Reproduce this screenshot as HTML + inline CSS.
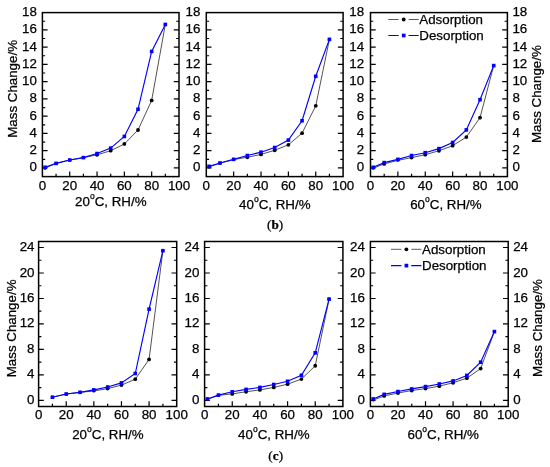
<!DOCTYPE html>
<html><head><meta charset="utf-8"><style>
html,body{margin:0;padding:0;background:#fff;}
body{width:550px;height:467px;overflow:hidden;}
svg{display:block;}
text{font-family:"Liberation Sans",Arial,sans-serif;font-size:13.33px;fill:#000;stroke:#000;stroke-width:0.25px;}
</style></head><body>
<svg width="550" height="467" viewBox="0 0 550 467">
<rect width="550" height="467" fill="#fff"/>
<path d="M42.4 167.97h5.2M179 167.97h-5.2M42.4 159.34h2.8M179 159.34h-2.8M42.4 150.71h5.2M179 150.71h-5.2M42.4 142.07h2.8M179 142.07h-2.8M42.4 133.44h5.2M179 133.44h-5.2M42.4 124.81h2.8M179 124.81h-2.8M42.4 116.18h5.2M179 116.18h-5.2M42.4 107.55h2.8M179 107.55h-2.8M42.4 98.92h5.2M179 98.92h-5.2M42.4 90.28h2.8M179 90.28h-2.8M42.4 81.65h5.2M179 81.65h-5.2M42.4 73.02h2.8M179 73.02h-2.8M42.4 64.39h5.2M179 64.39h-5.2M42.4 55.76h2.8M179 55.76h-2.8M42.4 47.13h5.2M179 47.13h-5.2M42.4 38.49h2.8M179 38.49h-2.8M42.4 29.86h5.2M179 29.86h-5.2M42.4 21.23h2.8M179 21.23h-2.8M56.06 176.6v-2.8M69.72 176.6v-5.2M83.38 176.6v-2.8M97.04 176.6v-5.2M110.7 176.6v-2.8M124.36 176.6v-5.2M138.02 176.6v-2.8M151.68 176.6v-5.2M165.34 176.6v-2.8" stroke="#000" stroke-width="1.2" fill="none"/>
<rect x="42.4" y="12.6" width="136.6" height="164" fill="none" stroke="#000" stroke-width="1.5"/>
<text x="36.8" y="171.47" text-anchor="end">0</text>
<text x="36.8" y="154.21" text-anchor="end">2</text>
<text x="36.8" y="136.94" text-anchor="end">4</text>
<text x="36.8" y="119.68" text-anchor="end">6</text>
<text x="36.8" y="102.42" text-anchor="end">8</text>
<text x="36.8" y="85.15" text-anchor="end">10</text>
<text x="36.8" y="67.89" text-anchor="end">12</text>
<text x="36.8" y="50.63" text-anchor="end">14</text>
<text x="36.8" y="33.36" text-anchor="end">16</text>
<text x="36.8" y="16.1" text-anchor="end">18</text>
<text x="42.4" y="189.6" text-anchor="middle">0</text>
<text x="69.72" y="189.6" text-anchor="middle">20</text>
<text x="97.04" y="189.6" text-anchor="middle">40</text>
<text x="124.36" y="189.6" text-anchor="middle">60</text>
<text x="151.68" y="189.6" text-anchor="middle">80</text>
<text x="179" y="189.6" text-anchor="middle">100</text>
<polyline points="45.13,168.14 56.06,163.39 69.72,160.03 83.38,157.61 97.04,154.85 110.7,150.71 124.36,143.97 138.02,129.99 151.68,100.38 165.34,24.43" fill="none" stroke="#333" stroke-width="0.85"/>
<polyline points="45.13,167.28 56.06,163.39 69.72,160.03 83.38,157.61 97.04,153.55 110.7,148.12 124.36,136.46 138.02,109.27 151.68,51.44 165.34,24.43" fill="none" stroke="#0000ff" stroke-width="1.15"/>
<circle cx="45.13" cy="168.14" r="1.5"/>
<circle cx="56.06" cy="163.39" r="1.5"/>
<circle cx="69.72" cy="160.03" r="1.5"/>
<circle cx="83.38" cy="157.61" r="1.5"/>
<circle cx="97.04" cy="154.85" r="1.9"/>
<circle cx="110.7" cy="150.71" r="1.9"/>
<circle cx="124.36" cy="143.97" r="1.9"/>
<circle cx="138.02" cy="129.99" r="1.9"/>
<circle cx="151.68" cy="100.38" r="1.9"/>
<circle cx="165.34" cy="24.43" r="1.5"/>
<rect x="43.33" y="165.48" width="3.6" height="3.6" fill="#0000ff"/>
<rect x="54.26" y="161.59" width="3.6" height="3.6" fill="#0000ff"/>
<rect x="67.92" y="158.23" width="3.6" height="3.6" fill="#0000ff"/>
<rect x="81.58" y="155.81" width="3.6" height="3.6" fill="#0000ff"/>
<rect x="95.24" y="151.75" width="3.6" height="3.6" fill="#0000ff"/>
<rect x="108.9" y="146.32" width="3.6" height="3.6" fill="#0000ff"/>
<rect x="122.56" y="134.66" width="3.6" height="3.6" fill="#0000ff"/>
<rect x="136.22" y="107.47" width="3.6" height="3.6" fill="#0000ff"/>
<rect x="149.88" y="49.64" width="3.6" height="3.6" fill="#0000ff"/>
<rect x="163.54" y="22.63" width="3.6" height="3.6" fill="#0000ff"/>
<text x="75.1" y="206.1">20<tspan font-size="8.5" dy="-7.3">o</tspan><tspan dy="7.3">C, RH/%</tspan></text>
<path d="M206.3 167.97h5.2M343.1 167.97h-5.2M206.3 159.34h2.8M343.1 159.34h-2.8M206.3 150.71h5.2M343.1 150.71h-5.2M206.3 142.07h2.8M343.1 142.07h-2.8M206.3 133.44h5.2M343.1 133.44h-5.2M206.3 124.81h2.8M343.1 124.81h-2.8M206.3 116.18h5.2M343.1 116.18h-5.2M206.3 107.55h2.8M343.1 107.55h-2.8M206.3 98.92h5.2M343.1 98.92h-5.2M206.3 90.28h2.8M343.1 90.28h-2.8M206.3 81.65h5.2M343.1 81.65h-5.2M206.3 73.02h2.8M343.1 73.02h-2.8M206.3 64.39h5.2M343.1 64.39h-5.2M206.3 55.76h2.8M343.1 55.76h-2.8M206.3 47.13h5.2M343.1 47.13h-5.2M206.3 38.49h2.8M343.1 38.49h-2.8M206.3 29.86h5.2M343.1 29.86h-5.2M206.3 21.23h2.8M343.1 21.23h-2.8M219.98 176.6v-2.8M233.66 176.6v-5.2M247.34 176.6v-2.8M261.02 176.6v-5.2M274.7 176.6v-2.8M288.38 176.6v-5.2M302.06 176.6v-2.8M315.74 176.6v-5.2M329.42 176.6v-2.8" stroke="#000" stroke-width="1.2" fill="none"/>
<rect x="206.3" y="12.6" width="136.8" height="164" fill="none" stroke="#000" stroke-width="1.5"/>
<text x="200.3" y="171.47" text-anchor="end">0</text>
<text x="200.3" y="154.21" text-anchor="end">2</text>
<text x="200.3" y="136.94" text-anchor="end">4</text>
<text x="200.3" y="119.68" text-anchor="end">6</text>
<text x="200.3" y="102.42" text-anchor="end">8</text>
<text x="200.3" y="85.15" text-anchor="end">10</text>
<text x="200.3" y="67.89" text-anchor="end">12</text>
<text x="200.3" y="50.63" text-anchor="end">14</text>
<text x="200.3" y="33.36" text-anchor="end">16</text>
<text x="200.3" y="16.1" text-anchor="end">18</text>
<text x="206.3" y="189.6" text-anchor="middle">0</text>
<text x="233.66" y="189.6" text-anchor="middle">20</text>
<text x="261.02" y="189.6" text-anchor="middle">40</text>
<text x="288.38" y="189.6" text-anchor="middle">60</text>
<text x="315.74" y="189.6" text-anchor="middle">80</text>
<text x="343.1" y="189.6" text-anchor="middle">100</text>
<polyline points="209.04,166.93 219.98,163.22 233.66,159.51 247.34,157.27 261.02,154.42 274.7,150.27 288.38,144.84 302.06,133.18 315.74,105.82 329.42,39.36" fill="none" stroke="#333" stroke-width="0.85"/>
<polyline points="209.04,166.33 219.98,162.96 233.66,159.34 247.34,155.54 261.02,152.17 274.7,147.51 288.38,140.09 302.06,120.75 315.74,76.3 329.42,39.36" fill="none" stroke="#0000ff" stroke-width="1.15"/>
<circle cx="209.04" cy="166.93" r="1.5"/>
<circle cx="219.98" cy="163.22" r="1.5"/>
<circle cx="233.66" cy="159.51" r="1.5"/>
<circle cx="247.34" cy="157.27" r="1.9"/>
<circle cx="261.02" cy="154.42" r="1.9"/>
<circle cx="274.7" cy="150.27" r="1.9"/>
<circle cx="288.38" cy="144.84" r="1.9"/>
<circle cx="302.06" cy="133.18" r="1.9"/>
<circle cx="315.74" cy="105.82" r="1.9"/>
<circle cx="329.42" cy="39.36" r="1.5"/>
<rect x="207.24" y="164.53" width="3.6" height="3.6" fill="#0000ff"/>
<rect x="218.18" y="161.16" width="3.6" height="3.6" fill="#0000ff"/>
<rect x="231.86" y="157.54" width="3.6" height="3.6" fill="#0000ff"/>
<rect x="245.54" y="153.74" width="3.6" height="3.6" fill="#0000ff"/>
<rect x="259.22" y="150.37" width="3.6" height="3.6" fill="#0000ff"/>
<rect x="272.9" y="145.71" width="3.6" height="3.6" fill="#0000ff"/>
<rect x="286.58" y="138.29" width="3.6" height="3.6" fill="#0000ff"/>
<rect x="300.26" y="118.95" width="3.6" height="3.6" fill="#0000ff"/>
<rect x="313.94" y="74.5" width="3.6" height="3.6" fill="#0000ff"/>
<rect x="327.62" y="37.56" width="3.6" height="3.6" fill="#0000ff"/>
<text x="239.1" y="208.8">40<tspan font-size="8.5" dy="-7.3">o</tspan><tspan dy="7.3">C, RH/%</tspan></text>
<path d="M370.5 167.97h5.2M507.4 167.97h-5.2M370.5 159.34h2.8M507.4 159.34h-2.8M370.5 150.71h5.2M507.4 150.71h-5.2M370.5 142.07h2.8M507.4 142.07h-2.8M370.5 133.44h5.2M507.4 133.44h-5.2M370.5 124.81h2.8M507.4 124.81h-2.8M370.5 116.18h5.2M507.4 116.18h-5.2M370.5 107.55h2.8M507.4 107.55h-2.8M370.5 98.92h5.2M507.4 98.92h-5.2M370.5 90.28h2.8M507.4 90.28h-2.8M370.5 81.65h5.2M507.4 81.65h-5.2M370.5 73.02h2.8M507.4 73.02h-2.8M370.5 64.39h5.2M507.4 64.39h-5.2M370.5 55.76h2.8M507.4 55.76h-2.8M370.5 47.13h5.2M507.4 47.13h-5.2M370.5 38.49h2.8M507.4 38.49h-2.8M370.5 29.86h5.2M507.4 29.86h-5.2M370.5 21.23h2.8M507.4 21.23h-2.8M384.19 176.6v-2.8M397.88 176.6v-5.2M411.57 176.6v-2.8M425.26 176.6v-5.2M438.95 176.6v-2.8M452.64 176.6v-5.2M466.33 176.6v-2.8M480.02 176.6v-5.2M493.71 176.6v-2.8" stroke="#000" stroke-width="1.2" fill="none"/>
<rect x="370.5" y="12.6" width="136.9" height="164" fill="none" stroke="#000" stroke-width="1.5"/>
<text x="364.2" y="171.47" text-anchor="end">0</text>
<text x="512.4" y="171.47">0</text>
<text x="364.2" y="154.21" text-anchor="end">2</text>
<text x="512.4" y="154.21">2</text>
<text x="364.2" y="136.94" text-anchor="end">4</text>
<text x="512.4" y="136.94">4</text>
<text x="364.2" y="119.68" text-anchor="end">6</text>
<text x="512.4" y="119.68">6</text>
<text x="364.2" y="102.42" text-anchor="end">8</text>
<text x="512.4" y="102.42">8</text>
<text x="364.2" y="85.15" text-anchor="end">10</text>
<text x="512.4" y="85.15">10</text>
<text x="364.2" y="67.89" text-anchor="end">12</text>
<text x="512.4" y="67.89">12</text>
<text x="364.2" y="50.63" text-anchor="end">14</text>
<text x="512.4" y="50.63">14</text>
<text x="364.2" y="33.36" text-anchor="end">16</text>
<text x="512.4" y="33.36">16</text>
<text x="364.2" y="16.1" text-anchor="end">18</text>
<text x="512.4" y="16.1">18</text>
<text x="370.5" y="189.6" text-anchor="middle">0</text>
<text x="397.88" y="189.6" text-anchor="middle">20</text>
<text x="425.26" y="189.6" text-anchor="middle">40</text>
<text x="452.64" y="189.6" text-anchor="middle">60</text>
<text x="480.02" y="189.6" text-anchor="middle">80</text>
<text x="507.4" y="189.6" text-anchor="middle">100</text>
<polyline points="373.24,168.23 384.19,163.91 397.88,160.37 411.57,157.61 425.26,154.68 438.95,150.79 452.64,145.7 466.33,137.07 480.02,117.65 493.71,65.6" fill="none" stroke="#333" stroke-width="0.85"/>
<polyline points="373.24,167.28 384.19,162.62 397.88,159.34 411.57,155.54 425.26,152.69 438.95,148.63 452.64,142.51 466.33,129.9 480.02,99.69 493.71,65.6" fill="none" stroke="#0000ff" stroke-width="1.15"/>
<circle cx="373.24" cy="168.23" r="1.5"/>
<circle cx="384.19" cy="163.91" r="1.9"/>
<circle cx="397.88" cy="160.37" r="1.5"/>
<circle cx="411.57" cy="157.61" r="1.9"/>
<circle cx="425.26" cy="154.68" r="1.9"/>
<circle cx="438.95" cy="150.79" r="1.9"/>
<circle cx="452.64" cy="145.7" r="1.9"/>
<circle cx="466.33" cy="137.07" r="1.9"/>
<circle cx="480.02" cy="117.65" r="1.9"/>
<circle cx="493.71" cy="65.6" r="1.5"/>
<rect x="371.44" y="165.48" width="3.6" height="3.6" fill="#0000ff"/>
<rect x="382.39" y="160.82" width="3.6" height="3.6" fill="#0000ff"/>
<rect x="396.08" y="157.54" width="3.6" height="3.6" fill="#0000ff"/>
<rect x="409.77" y="153.74" width="3.6" height="3.6" fill="#0000ff"/>
<rect x="423.46" y="150.89" width="3.6" height="3.6" fill="#0000ff"/>
<rect x="437.15" y="146.83" width="3.6" height="3.6" fill="#0000ff"/>
<rect x="450.84" y="140.71" width="3.6" height="3.6" fill="#0000ff"/>
<rect x="464.53" y="128.1" width="3.6" height="3.6" fill="#0000ff"/>
<rect x="478.22" y="97.89" width="3.6" height="3.6" fill="#0000ff"/>
<rect x="491.91" y="63.8" width="3.6" height="3.6" fill="#0000ff"/>
<text x="410.2" y="208.8">60<tspan font-size="8.5" dy="-7.3">o</tspan><tspan dy="7.3">C, RH/%</tspan></text>
<path d="M38.6 400.4h5.2M176.7 400.4h-5.2M38.6 387.66h2.8M176.7 387.66h-2.8M38.6 374.92h5.2M176.7 374.92h-5.2M38.6 362.18h2.8M176.7 362.18h-2.8M38.6 349.44h5.2M176.7 349.44h-5.2M38.6 336.7h2.8M176.7 336.7h-2.8M38.6 323.96h5.2M176.7 323.96h-5.2M38.6 311.22h2.8M176.7 311.22h-2.8M38.6 298.48h5.2M176.7 298.48h-5.2M38.6 285.74h2.8M176.7 285.74h-2.8M38.6 273h5.2M176.7 273h-5.2M38.6 260.26h2.8M176.7 260.26h-2.8M38.6 247.52h5.2M176.7 247.52h-5.2M52.41 406.5v-2.8M66.22 406.5v-5.2M80.03 406.5v-2.8M93.84 406.5v-5.2M107.65 406.5v-2.8M121.46 406.5v-5.2M135.27 406.5v-2.8M149.08 406.5v-5.2M162.89 406.5v-2.8" stroke="#000" stroke-width="1.2" fill="none"/>
<rect x="38.6" y="241.5" width="138.1" height="165" fill="none" stroke="#000" stroke-width="1.5"/>
<text x="34.5" y="403.9" text-anchor="end">0</text>
<text x="34.5" y="378.42" text-anchor="end">4</text>
<text x="34.5" y="352.94" text-anchor="end">8</text>
<text x="34.5" y="327.46" text-anchor="end">12</text>
<text x="34.5" y="301.98" text-anchor="end">16</text>
<text x="34.5" y="276.5" text-anchor="end">20</text>
<text x="34.5" y="251.02" text-anchor="end">24</text>
<text x="38.6" y="418.7" text-anchor="middle">0</text>
<text x="66.22" y="418.7" text-anchor="middle">20</text>
<text x="93.84" y="418.7" text-anchor="middle">40</text>
<text x="121.46" y="418.7" text-anchor="middle">60</text>
<text x="149.08" y="418.7" text-anchor="middle">80</text>
<text x="176.7" y="418.7" text-anchor="middle">100</text>
<polyline points="52.41,397.21 66.22,394.03 80.03,392.31 93.84,391.04 107.65,388.62 121.46,385.11 135.27,379.19 149.08,359.38 162.89,250.7" fill="none" stroke="#333" stroke-width="0.85"/>
<polyline points="52.41,397.21 66.22,394.03 80.03,392.31 93.84,389.89 107.65,387.02 121.46,382.88 135.27,373.52 149.08,309.12 162.89,250.7" fill="none" stroke="#0000ff" stroke-width="1.15"/>
<circle cx="52.41" cy="397.21" r="1.5"/>
<circle cx="66.22" cy="394.03" r="1.5"/>
<circle cx="80.03" cy="392.31" r="1.5"/>
<circle cx="93.84" cy="391.04" r="1.5"/>
<circle cx="107.65" cy="388.62" r="1.9"/>
<circle cx="121.46" cy="385.11" r="1.9"/>
<circle cx="135.27" cy="379.19" r="1.9"/>
<circle cx="149.08" cy="359.38" r="1.9"/>
<circle cx="162.89" cy="250.7" r="1.5"/>
<rect x="50.61" y="395.41" width="3.6" height="3.6" fill="#0000ff"/>
<rect x="64.42" y="392.23" width="3.6" height="3.6" fill="#0000ff"/>
<rect x="78.23" y="390.51" width="3.6" height="3.6" fill="#0000ff"/>
<rect x="92.04" y="388.09" width="3.6" height="3.6" fill="#0000ff"/>
<rect x="105.85" y="385.22" width="3.6" height="3.6" fill="#0000ff"/>
<rect x="119.66" y="381.08" width="3.6" height="3.6" fill="#0000ff"/>
<rect x="133.47" y="371.72" width="3.6" height="3.6" fill="#0000ff"/>
<rect x="147.28" y="307.32" width="3.6" height="3.6" fill="#0000ff"/>
<rect x="161.09" y="248.9" width="3.6" height="3.6" fill="#0000ff"/>
<text x="72.2" y="438.9">20<tspan font-size="8.5" dy="-7.3">o</tspan><tspan dy="7.3">C, RH/%</tspan></text>
<path d="M204.6 400.4h5.2M342.9 400.4h-5.2M204.6 387.66h2.8M342.9 387.66h-2.8M204.6 374.92h5.2M342.9 374.92h-5.2M204.6 362.18h2.8M342.9 362.18h-2.8M204.6 349.44h5.2M342.9 349.44h-5.2M204.6 336.7h2.8M342.9 336.7h-2.8M204.6 323.96h5.2M342.9 323.96h-5.2M204.6 311.22h2.8M342.9 311.22h-2.8M204.6 298.48h5.2M342.9 298.48h-5.2M204.6 285.74h2.8M342.9 285.74h-2.8M204.6 273h5.2M342.9 273h-5.2M204.6 260.26h2.8M342.9 260.26h-2.8M204.6 247.52h5.2M342.9 247.52h-5.2M218.43 406.5v-2.8M232.26 406.5v-5.2M246.09 406.5v-2.8M259.92 406.5v-5.2M273.75 406.5v-2.8M287.58 406.5v-5.2M301.41 406.5v-2.8M315.24 406.5v-5.2M329.07 406.5v-2.8" stroke="#000" stroke-width="1.2" fill="none"/>
<rect x="204.6" y="241.5" width="138.3" height="165" fill="none" stroke="#000" stroke-width="1.5"/>
<text x="199.3" y="403.9" text-anchor="end">0</text>
<text x="199.3" y="378.42" text-anchor="end">4</text>
<text x="199.3" y="352.94" text-anchor="end">8</text>
<text x="199.3" y="327.46" text-anchor="end">12</text>
<text x="199.3" y="301.98" text-anchor="end">16</text>
<text x="199.3" y="276.5" text-anchor="end">20</text>
<text x="199.3" y="251.02" text-anchor="end">24</text>
<text x="204.6" y="418.7" text-anchor="middle">0</text>
<text x="232.26" y="418.7" text-anchor="middle">20</text>
<text x="259.92" y="418.7" text-anchor="middle">40</text>
<text x="287.58" y="418.7" text-anchor="middle">60</text>
<text x="315.24" y="418.7" text-anchor="middle">80</text>
<text x="342.9" y="418.7" text-anchor="middle">100</text>
<polyline points="207.37,399.44 218.43,395.3 232.26,393.9 246.09,391.74 259.92,389.89 273.75,387.41 287.58,384.16 301.41,379.12 315.24,365.75 329.07,299.12" fill="none" stroke="#333" stroke-width="0.85"/>
<polyline points="207.37,398.93 218.43,395.11 232.26,391.8 246.09,389.38 259.92,387.41 273.75,384.47 287.58,381.29 301.41,375.24 315.24,352.82 329.07,299.12" fill="none" stroke="#0000ff" stroke-width="1.15"/>
<circle cx="207.37" cy="399.44" r="1.5"/>
<circle cx="218.43" cy="395.3" r="1.5"/>
<circle cx="232.26" cy="393.9" r="1.9"/>
<circle cx="246.09" cy="391.74" r="1.9"/>
<circle cx="259.92" cy="389.89" r="1.9"/>
<circle cx="273.75" cy="387.41" r="1.9"/>
<circle cx="287.58" cy="384.16" r="1.9"/>
<circle cx="301.41" cy="379.12" r="1.9"/>
<circle cx="315.24" cy="365.75" r="1.9"/>
<circle cx="329.07" cy="299.12" r="1.5"/>
<rect x="205.57" y="397.13" width="3.6" height="3.6" fill="#0000ff"/>
<rect x="216.63" y="393.31" width="3.6" height="3.6" fill="#0000ff"/>
<rect x="230.46" y="390" width="3.6" height="3.6" fill="#0000ff"/>
<rect x="244.29" y="387.58" width="3.6" height="3.6" fill="#0000ff"/>
<rect x="258.12" y="385.61" width="3.6" height="3.6" fill="#0000ff"/>
<rect x="271.95" y="382.67" width="3.6" height="3.6" fill="#0000ff"/>
<rect x="285.78" y="379.49" width="3.6" height="3.6" fill="#0000ff"/>
<rect x="299.61" y="373.44" width="3.6" height="3.6" fill="#0000ff"/>
<rect x="313.44" y="351.02" width="3.6" height="3.6" fill="#0000ff"/>
<rect x="327.27" y="297.32" width="3.6" height="3.6" fill="#0000ff"/>
<text x="238.1" y="438.9">40<tspan font-size="8.5" dy="-7.3">o</tspan><tspan dy="7.3">C, RH/%</tspan></text>
<path d="M370.4 400.4h5.2M508.2 400.4h-5.2M370.4 387.66h2.8M508.2 387.66h-2.8M370.4 374.92h5.2M508.2 374.92h-5.2M370.4 362.18h2.8M508.2 362.18h-2.8M370.4 349.44h5.2M508.2 349.44h-5.2M370.4 336.7h2.8M508.2 336.7h-2.8M370.4 323.96h5.2M508.2 323.96h-5.2M370.4 311.22h2.8M508.2 311.22h-2.8M370.4 298.48h5.2M508.2 298.48h-5.2M370.4 285.74h2.8M508.2 285.74h-2.8M370.4 273h5.2M508.2 273h-5.2M370.4 260.26h2.8M508.2 260.26h-2.8M370.4 247.52h5.2M508.2 247.52h-5.2M384.18 406.5v-2.8M397.96 406.5v-5.2M411.74 406.5v-2.8M425.52 406.5v-5.2M439.3 406.5v-2.8M453.08 406.5v-5.2M466.86 406.5v-2.8M480.64 406.5v-5.2M494.42 406.5v-2.8" stroke="#000" stroke-width="1.2" fill="none"/>
<rect x="370.4" y="241.5" width="137.8" height="165" fill="none" stroke="#000" stroke-width="1.5"/>
<text x="364.8" y="403.9" text-anchor="end">0</text>
<text x="513.2" y="403.9">0</text>
<text x="364.8" y="378.42" text-anchor="end">4</text>
<text x="513.2" y="378.42">4</text>
<text x="364.8" y="352.94" text-anchor="end">8</text>
<text x="513.2" y="352.94">8</text>
<text x="364.8" y="327.46" text-anchor="end">12</text>
<text x="513.2" y="327.46">12</text>
<text x="364.8" y="301.98" text-anchor="end">16</text>
<text x="513.2" y="301.98">16</text>
<text x="364.8" y="276.5" text-anchor="end">20</text>
<text x="513.2" y="276.5">20</text>
<text x="364.8" y="251.02" text-anchor="end">24</text>
<text x="513.2" y="251.02">24</text>
<text x="370.4" y="418.7" text-anchor="middle">0</text>
<text x="397.96" y="418.7" text-anchor="middle">20</text>
<text x="425.52" y="418.7" text-anchor="middle">40</text>
<text x="453.08" y="418.7" text-anchor="middle">60</text>
<text x="480.64" y="418.7" text-anchor="middle">80</text>
<text x="508.2" y="418.7" text-anchor="middle">100</text>
<polyline points="373.16,400.08 384.18,395.94 397.96,393.01 411.74,390.53 425.52,388.62 439.3,386.13 453.08,382.76 466.86,378.17 480.64,368.55 494.42,331.6" fill="none" stroke="#333" stroke-width="0.85"/>
<polyline points="373.16,398.93 384.18,394.35 397.96,391.55 411.74,388.93 425.52,386.58 439.3,383.97 453.08,380.91 466.86,375.43 480.64,362.18 494.42,331.6" fill="none" stroke="#0000ff" stroke-width="1.15"/>
<circle cx="373.16" cy="400.08" r="1.5"/>
<circle cx="384.18" cy="395.94" r="1.9"/>
<circle cx="397.96" cy="393.01" r="1.9"/>
<circle cx="411.74" cy="390.53" r="1.9"/>
<circle cx="425.52" cy="388.62" r="1.9"/>
<circle cx="439.3" cy="386.13" r="1.9"/>
<circle cx="453.08" cy="382.76" r="1.9"/>
<circle cx="466.86" cy="378.17" r="1.9"/>
<circle cx="480.64" cy="368.55" r="1.9"/>
<circle cx="494.42" cy="331.6" r="1.5"/>
<rect x="371.36" y="397.13" width="3.6" height="3.6" fill="#0000ff"/>
<rect x="382.38" y="392.55" width="3.6" height="3.6" fill="#0000ff"/>
<rect x="396.16" y="389.75" width="3.6" height="3.6" fill="#0000ff"/>
<rect x="409.94" y="387.13" width="3.6" height="3.6" fill="#0000ff"/>
<rect x="423.72" y="384.78" width="3.6" height="3.6" fill="#0000ff"/>
<rect x="437.5" y="382.17" width="3.6" height="3.6" fill="#0000ff"/>
<rect x="451.28" y="379.11" width="3.6" height="3.6" fill="#0000ff"/>
<rect x="465.06" y="373.63" width="3.6" height="3.6" fill="#0000ff"/>
<rect x="478.84" y="360.38" width="3.6" height="3.6" fill="#0000ff"/>
<rect x="492.62" y="329.8" width="3.6" height="3.6" fill="#0000ff"/>
<text x="407.5" y="438.9">60<tspan font-size="8.5" dy="-7.3">o</tspan><tspan dy="7.3">C, RH/%</tspan></text>
<path d="M388.3 19.5h10.3M408.7 19.5h10" stroke="#5a5a5a" stroke-width="1"/>
<circle cx="403.7" cy="19.5" r="1.9"/>
<text x="419.3" y="23.9">Adsorption</text>
<path d="M388.3 35.5h10.4M408.5 35.5h10.2" stroke="#0000ff" stroke-width="1.15"/>
<rect x="401.85" y="33.65" width="3.7" height="3.7" fill="#0000ff"/>
<text x="419.3" y="40.2">Desorption</text>
<path d="M391 249.3h10.3M411.4 249.3h10" stroke="#5a5a5a" stroke-width="1"/>
<circle cx="406.4" cy="249.3" r="1.9"/>
<text x="422" y="253.9">Adsorption</text>
<path d="M391 265.6h10.4M411.2 265.6h10.2" stroke="#0000ff" stroke-width="1.15"/>
<rect x="404.55" y="263.75" width="3.7" height="3.7" fill="#0000ff"/>
<text x="422" y="270.3">Desorption</text>
<text transform="translate(16.7 88.9) rotate(-90)" text-anchor="middle">Mass Change/%</text>
<text transform="translate(541 94.1) rotate(-90)" text-anchor="middle">Mass Change/%</text>
<text transform="translate(16 328.4) rotate(-90)" text-anchor="middle">Mass Change/%</text>
<text transform="translate(542 328) rotate(-90)" text-anchor="middle">Mass Change/%</text>
<text x="275.2" y="228.9" text-anchor="middle" style="font-family:'Liberation Serif',serif;font-size:13.2px">(<tspan font-weight="bold">b</tspan>)</text>
<text x="275.7" y="459.8" text-anchor="middle" style="font-family:'Liberation Serif',serif;font-size:13.2px">(<tspan font-weight="bold">c</tspan>)</text>
</svg>
</body></html>
